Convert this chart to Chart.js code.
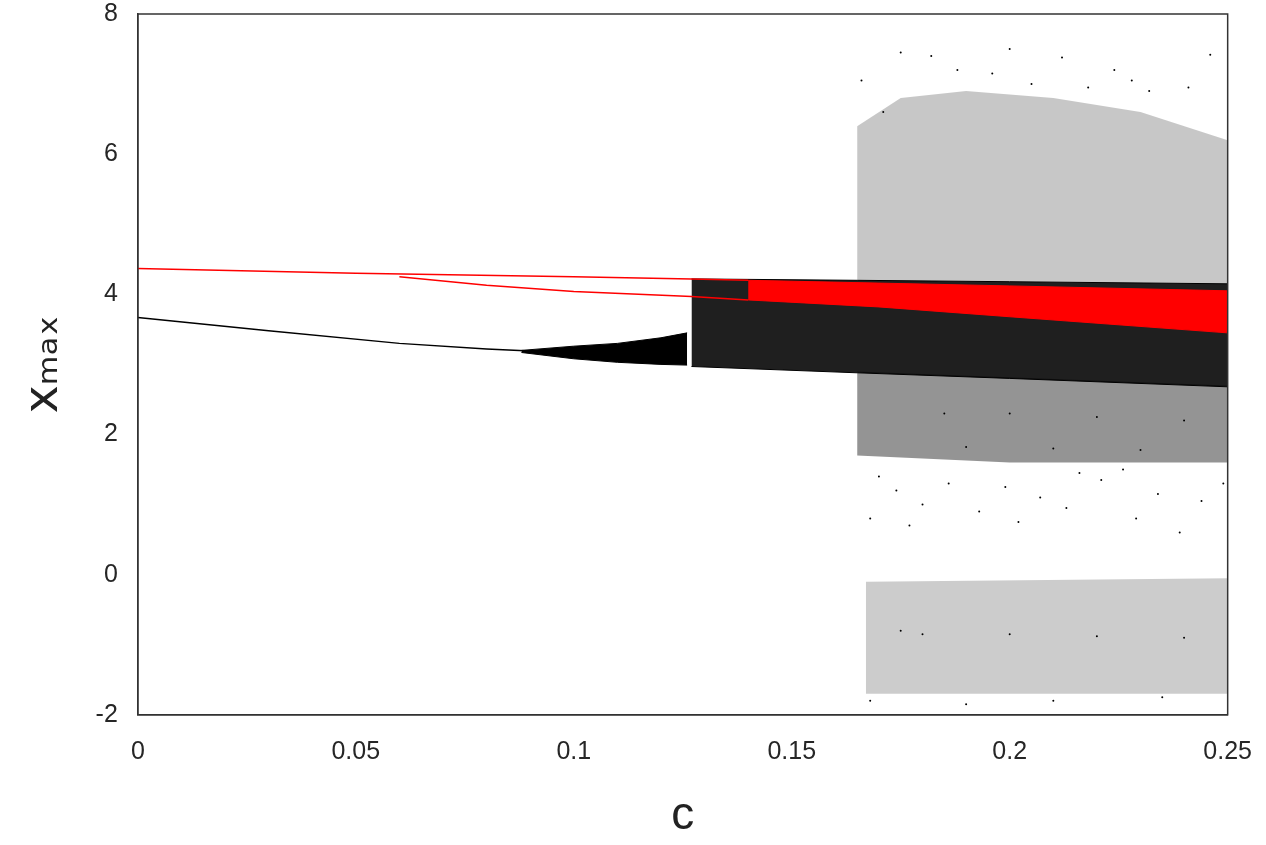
<!DOCTYPE html>
<html><head><meta charset="utf-8">
<script src="https://cdn.jsdelivr.net/npm/chart.js@4/dist/chart.umd.min.js"></script>
<style>html,body{margin:0;background:#fff;overflow:hidden}#w{width:1266px;height:857px;margin-top:-13px}</style>
</head><body><div id="w"><canvas id="c"></canvas></div>
<script>
const xTicks=[0,0.05,0.1,0.15,0.2,0.25];
const yTicks=[-2,0,2,4,6,8];
// branch / band edges: [c, xmax]
const blackBranch=[[0,3.67],[0.03,3.48],[0.06,3.3],[0.08,3.22],[0.09,3.19]];
const preBandTop=[[0.088,3.2],[0.1,3.26],[0.11,3.3],[0.12,3.38],[0.126,3.45]];
const preBandBot=[[0.088,3.17],[0.1,3.08],[0.11,3.03],[0.12,3.0],[0.126,2.99]];
const chaosTop=[[0.127,4.22],[0.165,4.2],[0.2,4.18],[0.25,4.15]];
const chaosBot=[[0.127,2.97],[0.165,2.88],[0.2,2.8],[0.25,2.68]];
const redUpper=[[0,4.37],[0.05,4.3],[0.1,4.25],[0.127,4.22],[0.14,4.2]];
const redLower=[[0.06,4.25],[0.08,4.13],[0.1,4.04],[0.127,3.97],[0.14,3.92]];
const redBandTop=[[0.14,4.2],[0.17,4.16],[0.2,4.12],[0.25,4.05]];
const redBandBot=[[0.14,3.92],[0.17,3.82],[0.2,3.68],[0.25,3.45]];
const cloudUpTop=[[0.165,6.4],[0.175,6.8],[0.19,6.9],[0.21,6.8],[0.23,6.6],[0.25,6.2]];
const cloudUpBot=[[0.165,4.2],[0.25,4.15]];
const cloudMidTop=[[0.165,2.9],[0.25,2.7]];
const cloudMidBot=[[0.165,1.7],[0.2,1.6],[0.25,1.6]];
const cloudNegTop=[[0.167,-0.1],[0.25,-0.05]];
const cloudNegBot=[[0.167,-1.7],[0.25,-1.7]];
const scatterPts=[[0.166,7.05],[0.175,7.45],[0.182,7.4],[0.196,7.15],[0.2,7.5],[0.212,7.38],[0.224,7.2],[0.246,7.42],[0.232,6.9],[0.241,6.95],[0.188,7.2],[0.171,6.6],[0.205,7.0],[0.218,6.95],[0.228,7.05],[0.17,1.4],[0.174,1.2],[0.18,1.0],[0.186,1.3],[0.193,0.9],[0.199,1.25],[0.207,1.1],[0.213,0.95],[0.221,1.35],[0.229,0.8],[0.234,1.15],[0.239,0.6],[0.244,1.05],[0.249,1.3],[0.168,0.8],[0.177,0.7],[0.202,0.75],[0.216,1.45],[0.226,1.5],[0.168,-1.8],[0.19,-1.85],[0.21,-1.8],[0.235,-1.75],[0.185,2.3],[0.2,2.3],[0.22,2.25],[0.24,2.2],[0.19,1.82],[0.21,1.8],[0.23,1.78],[0.18,-0.85],[0.2,-0.85],[0.22,-0.88],[0.24,-0.9],[0.175,-0.8]];
const P=a=>a.map(([x,y])=>({x,y}));
const line=(d,col,w,ord,fill)=>({data:P(d),showLine:true,pointRadius:0,borderColor:col,borderWidth:w,order:ord,fill:fill?{target:fill.t}:false,backgroundColor:fill?fill.c:undefined});
const ds=[
 line(cloudUpTop,'rgba(0,0,0,0)',0,10,{t:1,c:'rgba(0,0,0,0.22)'}), //0
 line(cloudUpBot,'rgba(0,0,0,0)',0,10), //1
 line(cloudMidTop,'rgba(0,0,0,0)',0,10,{t:3,c:'rgba(0,0,0,0.42)'}), //2
 line(cloudMidBot,'rgba(0,0,0,0)',0,10), //3
 line(cloudNegTop,'rgba(0,0,0,0)',0,10,{t:5,c:'rgba(0,0,0,0.2)'}), //4
 line(cloudNegBot,'rgba(0,0,0,0)',0,10), //5
 line(chaosTop,'#000',1,5,{t:7,c:'rgba(0,0,0,0.88)'}), //6
 line(chaosBot,'#000',1,5), //7
 line(preBandTop,'#000',1,5,{t:9,c:'#000'}), //8
 line(preBandBot,'#000',1,5), //9
 line(blackBranch,'#000',1.5,5), //10
 line(redUpper,'#f00',1.5,1), //11
 line(redLower,'#f00',1.5,1), //12
 line(redBandTop,'#f00',1,1,{t:14,c:'#f00'}), //13
 line(redBandBot,'#f00',1,1), //14
 {data:P(scatterPts),pointRadius:1,pointBackgroundColor:'#000',pointBorderWidth:0,showLine:false,order:6}
];
new Chart(document.getElementById('c'),{type:'scatter',data:{datasets:ds},
options:{responsive:true,maintainAspectRatio:false,animation:false,
layout:{padding:{top:0,right:29,left:12,bottom:0}},
plugins:{legend:{display:false},tooltip:{enabled:false}},
scales:{
 x:{type:'linear',min:0,max:0.25,afterBuildTicks:a=>{a.ticks=xTicks.map(v=>({value:v}))},
  grid:{display:false},border:{color:'#333',width:1.5},
  ticks:{color:'#262626',font:{family:'Liberation Sans',size:25},padding:14,maxRotation:0,callback:v=>String(v)},
  title:{display:true,text:'c',color:'#222',font:{family:'Liberation Sans',size:46},padding:{top:8,bottom:0}}},
 y:{type:'linear',min:-2,max:8,afterBuildTicks:a=>{a.ticks=yTicks.map(v=>({value:v}))},
  grid:{display:false},border:{color:'#333',width:1.5},
  ticks:{color:'#262626',font:{family:'Liberation Sans',size:25},padding:12},
  title:{display:true,text:'xₘₐₓ',color:'#222',font:{family:'DejaVu Sans',size:48},padding:{bottom:10}}}
}},
plugins:[{id:'frame',afterDraw(ch){const {ctx,chartArea:a}=ch;ctx.save();ctx.strokeStyle='#333';ctx.lineWidth=1.5;ctx.strokeRect(a.left,a.top,a.right-a.left,a.bottom-a.top);ctx.restore();}}]
});
</script></body></html>
